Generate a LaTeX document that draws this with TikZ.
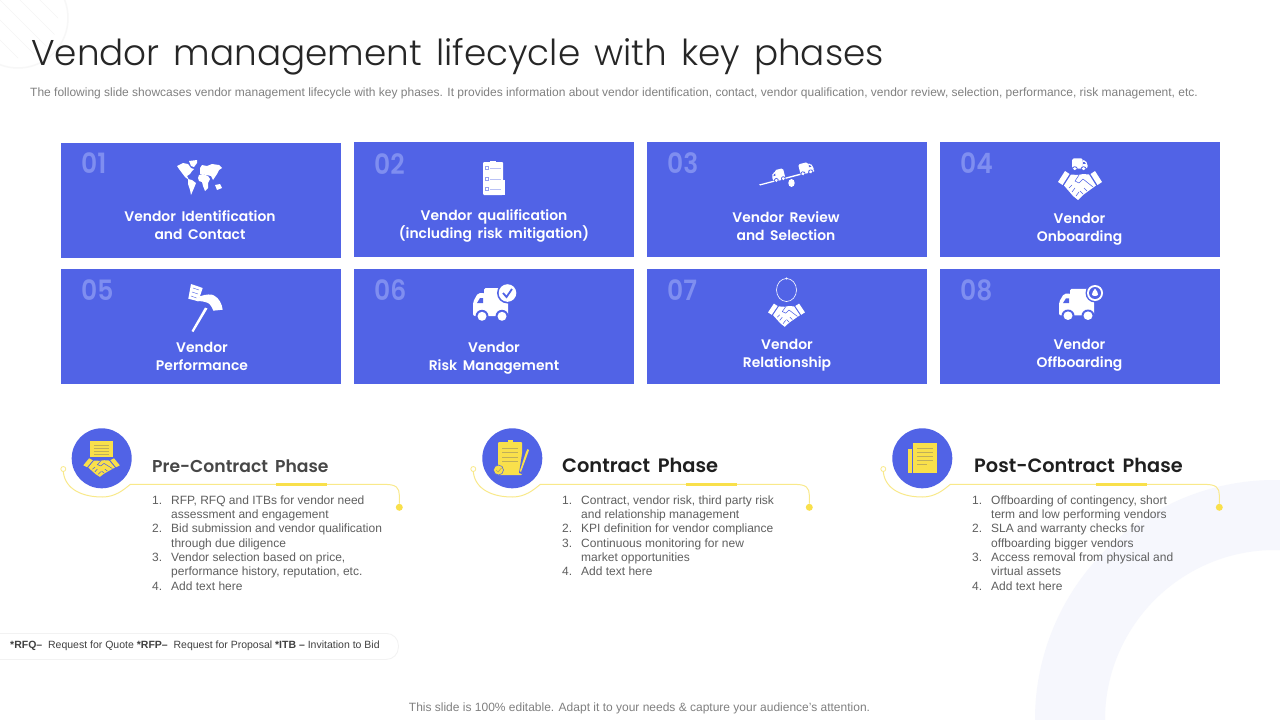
\documentclass[tikz,border=0pt]{standalone}
\usepackage{fontspec}
\setmainfont{Liberation Sans}
\newfontfamily\poplight{Poppins Light}[WordSpace=1.43]
\newfontfamily\popmed{Poppins Medium}
\newfontfamily\popsemi{Poppins SemiBold}
\newfontfamily\popsemiw{Poppins SemiBold}[WordSpace=1.7]
\definecolor{brandblue}{HTML}{5163E6}
\definecolor{numblue}{HTML}{7F8EF0}
\definecolor{ylw}{HTML}{F9E04B}
\definecolor{ylwlight}{HTML}{F9E98A}
\definecolor{ylwdark}{HTML}{BFAE5A}
\definecolor{ringc}{HTML}{F6F7FD}
\definecolor{bodyc}{HTML}{5F5F5F}
\tikzset{
  card/.style={fill=brandblue,draw=none,anchor=north west,minimum width=280pt,minimum height=115pt,inner sep=0pt},
  cardnum/.style={anchor=base west,inner sep=0pt,text=numblue,font=\popsemi\fontsize{25}{25}\selectfont},
  cardtxt/.style={anchor=center,inner sep=0pt,text=white,align=center,font=\popsemi\fontsize{13.9}{18}\selectfont},
  phasebubble/.style={circle,fill=brandblue,minimum size=60pt,inner sep=0pt},
  phasetitle/.style={anchor=base west,inner sep=0pt},
  lst/.style={anchor=base west,inner sep=0pt,text=bodyc,font=\fontsize{12}{14}\selectfont},
  startdot/.style={circle,draw=ylwlight,fill=white,line width=0.8pt,minimum size=5pt,inner sep=0pt},
  enddot/.style={circle,fill=ylw,minimum size=7pt,inner sep=0pt},
  thinline/.style={draw=ylwlight,line width=1pt},
  thickline/.style={draw=ylw,line width=2.5pt},
}
\newcommand{\tallnum}[1]{\scalebox{1}[1.12]{#1}}
% handshake: local box 44x31, origin top-left
\newcommand{\hscol}{white}
\newcommand{\handshk}[4]{%
\begin{scope}[shift={(#1,#2)},xscale=#3,yscale=#4]
 \fill[\hscol] (0,13)--(7,2)--(11.5,5)--(4.5,16)--cycle;
 \fill[\hscol] (44,13)--(37,2)--(32.5,5)--(39.5,16)--cycle;
 \fill[\hscol] (13,5.5)--(20,6)--(25,5)--(31,5.5)--(38,16.5)--(25,26)--(20,31)--(15,27)--(6,16.5)--cycle;
 \draw[brandblue,line width=.55pt,line join=round] (21,6)--(17,12)--(21,14)--(25,10)--(35,18);
 \draw[brandblue,line width=.55pt] (11,19)--(14,16) (14,23)--(17,19) (18,27)--(21,23) (25,25)--(22,22) (29,22)--(26,19);
\end{scope}}
% truck: local box 36x37, origin top-left, faces left
\newcommand{\truckic}[4]{%
\begin{scope}[shift={(#1,#2)},xscale=#3,yscale=#4]
 \fill[white,rounded corners=1.5pt] (12,4)--(36,4)--(36,32)--(12,32)--cycle;
 \fill[white,rounded corners=2pt] (13,9)--(6,9)--(1,18)--(1,32)--(13,32)--cycle;
 \fill[brandblue] (5,19)--(8,14)--(11,14)--(11,19)--cycle;
 \fill[brandblue] (10,32.3) circle[radius=6.5] (30,32.3) circle[radius=6.5];
 \fill[white] (10,32.3) circle[radius=4.5] (30,32.3) circle[radius=4.5];
\end{scope}}
\begin{document}
\begin{tikzpicture}[x=1pt,y=-1pt]
\useasboundingbox (0,0) rectangle (1280,720);
\fill[white] (0,0) rectangle (1280,720);
% background ring
\begin{scope}
 \clip (0,0) rectangle (1280,720);
 \fill[ringc,even odd rule] (1275,720) circle[radius=240] (1275,720) circle[radius=170];
 \draw[black!3,line width=1.5pt] (18,18) circle[radius=50];
 \clip (18,18) circle[radius=40];
 \foreach \d in {-50,-40,...,50}{\draw[black!4,line width=.7pt] ({18+\d-50},{18-\d-50})--({18+\d+50},{18-\d+50});}
\end{scope}
% titles
\node[anchor=base west,inner sep=0pt,text=black!85,font=\poplight\fontsize{35.8}{36}\selectfont] (title) at (31,65) {Vendor management lifecycle with key phases};
\node[anchor=base west,inner sep=0pt,text=black!50,font=\fontsize{12}{14}\selectfont] (sub) at (30,96.5) {The following slide showcases vendor management lifecycle with key phases. It provides information about vendor identification, contact, vendor qualification, vendor review, selection, performance, risk management, etc.};
% cards
\node[card] (c1) at (61,143) {};
\node[card] (c2) at (354,142) {};
\node[card] (c3) at (647,142) {};
\node[card] (c4) at (940,142) {};
\node[card] (c5) at (61,269) {};
\node[card] (c6) at (354,269) {};
\node[card] (c7) at (647,269) {};
\node[card] (c8) at (940,269) {};
\node[cardnum] (n1) at (81,173.5) {\tallnum{01}};
\node[cardnum] (n2) at (374,174.5) {\tallnum{02}};
\node[cardnum] (n3) at (667,173.5) {\tallnum{03}};
\node[cardnum] (n4) at (960,173.5) {\tallnum{04}};
\node[cardnum] (n5) at (81,300.5) {\tallnum{05}};
\node[cardnum] (n6) at (374,300.5) {\tallnum{06}};
\node[cardnum] (n7) at (667,300.5) {\tallnum{07}};
\node[cardnum] (n8) at (960,300.5) {\tallnum{08}};
\node[cardtxt] (t1) at (200,225) {Vendor Identification\\and Contact};
\node[cardtxt] (t2) at (494,226) {Vendor qualification\\(including risk mitigation)};
\node[cardtxt] (t3) at (786,226) {Vendor Review\\and Selection};
\node[cardtxt] (t4) at (1079.5,229) {Vendor\\Onboarding};
\node[cardtxt] (t5) at (202,356) {Vendor\\Performance};
\node[cardtxt] (t6) at (494,358) {Vendor\\Risk Management};
\node[cardtxt] (t7) at (787,355) {Vendor\\Relationship};
\node[cardtxt] (t8) at (1079.5,355) {Vendor\\Offboarding};
% icon 01 world map
\begin{scope}[shift={(177,160)}]
 \fill[white] (0,6)--(6,3)--(11,4)--(14,8)--(17,9)--(15,11)--(13,14)--(10,16)--(12,20)--(8,17)--(5,13)--(2,9)--cycle;
 \fill[white] (12,1)--(20,0)--(20,3)--(17,7)--(14,6)--cycle;
 \fill[white] (11,19)--(15,20)--(19,23)--(17,28)--(14,35)--(13,30)--(11,24)--cycle;
 \fill[white] (22,15)--(26,14)--(31,16)--(33,19)--(31,23)--(31,28)--(28,31)--(26,26)--(25,22)--(22,21)--(21,18)--cycle;
 \fill[white] (23,8)--(25,5)--(30,6)--(35,4)--(42,5)--(45,8)--(42,10)--(40,14)--(38,17)--(36,20)--(34,16)--(30,15)--(26,14.5)--(23,14)--cycle;
 \fill[white] (38,25)--(43,24)--(45,28)--(40,30)--cycle;
\end{scope}
% icon 02 clipboard
\begin{scope}[shift={(483,161)}]
 \fill[white] (18,19) rectangle (22,34);
 \fill[white,rounded corners=1pt] (0,1) rectangle (20,34);
 \fill[white] (7,0) rectangle (13,2);
 \foreach \yy in {7,18,28}{
  \draw[brandblue!60,line width=.5pt] (2,{\yy-2}) rectangle (5,{\yy+1});
  \draw[brandblue!40,line width=.5pt] (7,\yy)--(18,\yy);}
\end{scope}
% icon 03 seesaw
\fill[white] (759,184.5)--(814,170)--(814,171.5)--(760,185.5)--cycle;
\fill[white] (791.5,183) ellipse[x radius=3.2,y radius=4];
\begin{scope}[rotate around={14:(787,176)}]
 \truckic{772}{166}{.36}{.36}
 \truckic{815}{166}{-.4}{.36}
\end{scope}
% icon 04 truck + handshake
\truckic{1088}{157}{-.44}{.36}
\handshk{1058}{169}{1}{1}
% icon 05 arm
\fill[white] (191,284)--(202.7,288)--(198.3,301.3)--(188.3,298.7)--cycle;
\fill[white] (200,296.3) .. controls (206,294) and (212,294) .. (214,295.5) .. controls (219,298) and (222,304) .. (222.7,309.7)--(213.3,310.7) .. controls (212,307) and (210,304) .. (208,303) .. controls (205,301.5) and (200,301) .. (197,301)--cycle;
\fill[white] (205,307.5)--(207.5,308.5)--(193.5,332)--(191.5,331)--cycle;
\draw[brandblue,line width=.4pt] (193,288)--(199,290) (192,292)--(198,294) (191,296)--(196.5,298);
% icon 06 truck with badge
\truckic{472}{284}{1}{1}
\fill[brandblue] (507.5,293) circle[radius=10.5];
\fill[white] (507.5,293) circle[radius=8.8];
\draw[brandblue,line width=1.8pt] (503,293)--(506.5,297)--(512,289);
% icon 07 head + handshake
\draw[white,line width=.6pt] (786.5,290) ellipse[x radius=10,y radius=11.5];
\fill[white] (786.5,278.5) circle[radius=1.2];
\handshk{768}{302}{.84}{.8}
% icon 08 truck with badge
\truckic{1058}{285}{1}{.95}
\fill[brandblue] (1095,293) circle[radius=9.5];
\fill[white] (1095,293) circle[radius=8];
\fill[brandblue] (1095,293) circle[radius=6];
\fill[white] (1095,288.5)..controls (1097,291) and (1098,293) .. (1098,294.5)..controls (1098,296.5) and (1092,296.5) .. (1092,294.5)..controls (1092,293) and (1093,291) .. (1095,288.5)--cycle;
% phase bubbles
\node[phasebubble] (b1) at (101.7,458.3) {};
\node[phasebubble] (b2) at (512.3,458.3) {};
\node[phasebubble] (b3) at (922.3,458.3) {};
% connectors
\foreach \nm/\x in {1/63.3,2/473.3,3/883.3}{
 \node[startdot] (s\nm) at (\x,469) {};
 \node[enddot] (e\nm) at ({\x+336},507.3) {};
 \draw[thinline] (s\nm.south) .. controls ({\x+2},490) and ({\x+20},497) .. ({\x+39},497) .. controls ({\x+52},497) and ({\x+60},490) .. ({\x+67},484.4) -- ({\x+322},484.4) .. controls ({\x+333},484.4) and ({\x+336},488) .. ({\x+336},495) -- (e\nm.north);
 \draw[thickline] ({\x+212.7},484.4)--({\x+263.7},484.4);
}
% icon yellow 1
\fill[ylw] (90,441) rectangle (112.7,461);
\draw[ylwdark,line width=.6pt] (94,445)--(109,445) (94,448)--(109,448) (94,451)--(109,451) (94,454)--(109,454);
\renewcommand{\hscol}{ylw}
\fill[brandblue] (88,457) rectangle (115,463);
\handshk{83.3}{457}{.83}{.64}
% icon yellow 2
\fill[ylw,rounded corners=1pt] (498,442) rectangle (522,475);
\fill[ylw] (508,439.5) rectangle (513,443);
\draw[ylwdark,line width=.7pt] (502,448)--(518,448) (502,452.5)--(518,452.5) (502,457)--(518,457) (502,461.5)--(518,461.5);
\fill[brandblue] (522,454)--(526,448)--(530,450)--(522,474)--(519,473)--cycle;
\fill[ylw] (526,452)--(527.5,449)--(529,450)--(528,453)--(521,472)--(519.8,471)--cycle;
\fill[ylw,draw=brandblue,line width=.6pt] (498.5,470) circle[radius=5];
\draw[ylwdark,line width=.7pt] (496,470)--(498,472)--(501.5,468);
% icon yellow 3
\fill[ylw] (908,449) rectangle (912,473);
\fill[ylw] (913,443) rectangle (937,473);
\draw[ylwdark,line width=.5pt] (917,448)--(933,448) (917,452)--(933,452) (917,456)--(933,456) (917,460)--(933,460) (917,464)--(927,464);
% phase titles
\node[phasetitle,text=black!72,font=\popsemi\fontsize{17.2}{18}\selectfont] (h1) at (152,472) {Pre-Contract Phase};
\node[phasetitle,text=black!88,font=\popsemiw\fontsize{19.4}{19}\selectfont] (h2) at (562,472) {Contract Phase};
\node[phasetitle,text=black!88,font=\popsemiw\fontsize{19.3}{19}\selectfont] (h3) at (974,472) {Post-Contract Phase};
% lists
\foreach \nm/\x/\yy/\num/\txt in {
 a1/152/504/1./{RFP, RFQ and ITBs for vendor need},
 a2/152/518/{}/{assessment and engagement},
 a3/152/532/2./{Bid submission and vendor qualification},
 a4/152/547/{}/{through due diligence},
 a5/152/561/3./{Vendor selection based on price,},
 a6/152/575.5/{}/{performance history, reputation, etc.},
 a7/152/590/4./{Add text here},
 m1/562/504/1./{Contract, vendor risk, third party risk},
 m2/562/518/{}/{and relationship management},
 m3/562/532/2./{KPI definition for vendor compliance},
 m4/562/547/3./{Continuous monitoring for new},
 m5/562/561/{}/{market opportunities},
 m6/562/575.5/4./{Add text here},
 z1/972/504/1./{Offboarding of contingency, short},
 z2/972/518/{}/{term and low performing vendors},
 z3/972/532/2./{SLA and warranty checks for},
 z4/972/547/{}/{offboarding bigger vendors},
 z5/972/561/3./{Access removal from physical and},
 z6/972/575.5/{}/{virtual assets},
 z7/972/590/4./{Add text here}}{
 \node[lst] (\nm n) at (\x,\yy) {\num};
 \node[lst] (\nm t) at ({\x+19},\yy) {\txt};
}
% footnote pill
\node[draw=black!5,fill=white,line width=.8pt,rounded corners=12pt,anchor=north west,minimum width=420pt,minimum height=26pt,inner sep=0pt] (pill) at (-22,633) {};
\node[anchor=base west,inner sep=0pt,text=black!75,font=\fontsize{10.5}{12}\selectfont] (foot) at (10,648.5) {\textbf{*RFQ–}\ \ Request for Quote \textbf{*RFP–}\ \ Request for Proposal \textbf{*ITB –} Invitation to Bid};
\node[anchor=base,inner sep=0pt,text=black!50,font=\fontsize{12}{14}\selectfont] (edit) at (639.5,711.5) {This slide is 100\% editable. Adapt it to your needs \& capture your audience’s attention.};
\end{tikzpicture}
\end{document}
